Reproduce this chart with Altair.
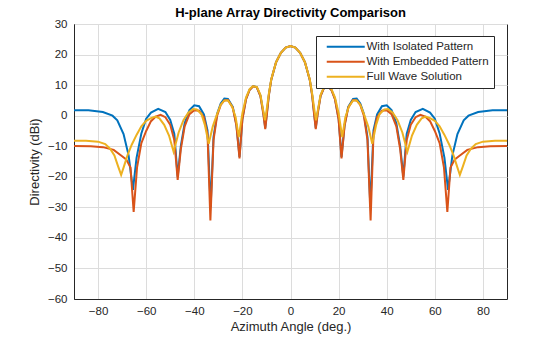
import altair as alt
import pandas as pd

# Isolated pattern (blue)
iso_angle = [-90, -84, -78, -74, -72, -69.4, -67.3, -65.5, -64, -62, -60, -58, -55, -52, -50, -48.3, -46.9, -45.6, -44, -42, -40, -38, -36, -34.5, -33.2, -32, -30.5, -29, -27.5, -26, -24, -22.5, -21.2, -20, -18.5, -17, -15.5, -14, -12.5, -11.3, -10.5, -9.8, -9, -8, -6, -4, -2,
             0, 2, 4, 6, 8, 9, 9.8, 10.5, 11.3, 12.5, 14, 15.5, 17, 18.5, 20, 21.2, 22.5, 24, 26, 27.5, 29, 30.5, 32, 33.2, 34.5, 36, 38, 40, 42, 44, 45.6, 46.9, 48.3, 50, 52, 55, 58, 60, 62, 64, 65.5, 67.3, 69.4, 72, 74, 78, 84, 90]
iso_val = [1.8, 1.8, 1.2, 0.0, -1.5, -6.0, -13.0, -24.3, -13.8, -5.8, -1.0, 1.0, 2.2, 1.2, -1.4, -6.0, -20.0, -10.0, -2.5, 1.8, 3.4, 3.1, 0.4, -4.8, -30.0, -7.0, 0.6, 4.0, 5.6, 5.5, 2.9, -2.9, -13.5, -1.0, 5.5, 8.5, 9.7, 9.3, 6.5, 1.0, -4.0, 1.0, 6.8, 11.8, 17.5, 20.6, 22.3,
           22.8, 22.3, 20.6, 17.5, 11.8, 6.8, 1.0, -4.0, 1.0, 6.5, 9.3, 9.7, 8.5, 5.5, -1.0, -13.5, -2.9, 2.9, 5.5, 5.6, 4.0, 0.6, -7.0, -30.0, -4.8, 0.4, 3.1, 3.4, 1.8, -2.5, -10.0, -20.0, -6.0, -1.4, 1.2, 2.2, 1.0, -1.0, -5.8, -13.8, -24.3, -13.0, -6.0, -1.5, 0.0, 1.2, 1.8, 1.8]

# Embedded pattern (orange)
emb_angle = [-90, -83, -78, -73.5, -70, -68.3, -66.5, -65.2, -63.8, -62, -60, -58, -56, -54, -52, -50, -48.3, -46.9, -45.6, -44, -42, -40, -38, -36, -34.5, -33.3, -32, -30.5, -29, -27.5, -26, -24, -22.5, -21.2, -20, -18.5, -17, -15.5, -14, -12.5, -11.3, -10.5, -9.8, -9, -8, -6, -4, -2,
             0, 2, 4, 6, 8, 9, 9.8, 10.5, 11.3, 12.5, 14, 15.5, 17, 18.5, 20, 21.2, 22.5, 24, 26, 27.5, 29, 30.5, 32, 33.3, 34.5, 36, 38, 40, 42, 44, 45.6, 46.9, 48.3, 50, 52, 54, 56, 58, 60, 62, 63.8, 65.2, 66.5, 68.3, 70, 73.5, 78, 83, 90]
emb_val = [-9.9, -10.0, -10.3, -11.2, -13.3, -14.3, -17.0, -31.5, -17.0, -9.0, -5.0, -1.8, -0.3, 0.3, -0.5, -3.0, -8.0, -21.0, -11.0, -3.5, 0.5, 1.8, 1.6, -0.5, -6.0, -34.3, -8.0, 0.0, 3.5, 5.0, 5.1, 2.6, -3.2, -14.0, -1.3, 5.3, 8.4, 9.6, 9.3, 6.4, 0.5, -4.4, 0.5, 6.6, 11.8, 17.5, 20.6, 22.3,
           22.8, 22.3, 20.6, 17.5, 11.8, 6.6, 0.5, -4.4, 0.5, 6.4, 9.3, 9.6, 8.4, 5.3, -1.3, -14.0, -3.2, 2.6, 5.1, 5.0, 3.5, 0.0, -8.0, -34.3, -6.0, -0.5, 1.6, 1.8, 0.5, -3.5, -11.0, -21.0, -8.0, -3.0, -0.5, 0.3, -0.3, -1.8, -5.0, -9.0, -17.0, -31.5, -17.0, -14.3, -13.3, -11.2, -10.3, -10.0, -9.9]

# Full wave solution (yellow)
fw_angle = [-90, -85, -80, -77, -75, -73.2, -71.7, -70.4, -69.2, -67.7, -66, -64, -62, -60, -58, -56.2, -54.5, -52.5, -50.5, -48.6, -46.5, -44.5, -42.5, -40.5, -39, -37, -35.6, -34, -32.3, -30.5, -29, -27.5, -26, -24.3, -22.8, -21.5, -20, -18.5, -17, -15.7, -14, -12.5, -11.4, -10.6, -10, -9, -8, -6, -4, -2,
            0, 2, 4, 6, 8, 9, 10, 10.6, 11.4, 12.5, 14, 15.7, 17, 18.5, 20, 21.5, 22.8, 24.3, 26, 27.5, 29, 30.5, 32.3, 34, 35.6, 37, 39, 40.5, 42.5, 44.5, 46.5, 48.6, 50.5, 52.5, 54.5, 56.2, 58, 60, 62, 64, 66, 67.7, 69.2, 70.4, 71.7, 73.2, 75, 77, 80, 85, 90]
fw_val = [-8.2, -8.2, -8.5, -9.3, -10.8, -13.0, -16.5, -19.4, -16.5, -12.8, -9.5, -6.3, -3.5, -1.7, -0.8, -0.3, -0.9, -3.0, -6.5, -11.8, -5.5, -1.5, 1.0, 2.2, 2.0, 0.5, -3.0, -9.2, -3.5, 0.6, 3.6, 5.0, 5.0, 3.0, -0.5, -7.0, 0.8, 5.9, 8.7, 9.6, 9.4, 6.8, 2.0, -1.5, 1.5, 7.2, 11.9, 17.5, 20.6, 22.3,
          22.8, 22.3, 20.6, 17.5, 11.9, 7.2, 1.5, -1.5, 2.0, 6.8, 9.4, 9.6, 8.7, 5.9, 0.8, -7.0, -0.5, 3.0, 5.0, 5.0, 3.6, 0.6, -3.5, -9.2, -3.0, 0.5, 2.0, 2.2, 1.0, -1.5, -5.5, -11.8, -6.5, -3.0, -0.9, -0.3, -0.8, -1.7, -3.5, -6.3, -9.5, -12.8, -16.5, -19.4, -16.5, -13.0, -10.8, -9.3, -8.5, -8.2, -8.2]

series_names = ["With Isolated Pattern", "With Embedded Pattern", "Full Wave Solution"]
series_colors = ["#0072BD", "#D95319", "#EDB120"]
x_ticks = [-80, -60, -40, -20, 0, 20, 40, 60, 80]
y_ticks = [-60, -50, -40, -30, -20, -10, 0, 10, 20, 30]

frames = []
for name, ang, val in zip(series_names, [iso_angle, emb_angle, fw_angle], [iso_val, emb_val, fw_val]):
    frames.append(pd.DataFrame({"angle": ang, "dir": val, "series": name, "idx": range(len(ang))}))
df = pd.concat(frames, ignore_index=True)

color = alt.Color("series:N",
                  scale=alt.Scale(domain=series_names, range=series_colors),
                  legend=alt.Legend(title=None, orient="none", legendX=242, legendY=12,
                                    symbolType="M0,0H38", symbolSize=4, symbolStrokeWidth=2,
                                    labelFontSize=11.5, labelColor="#262626", labelOffset=34,
                                    rowPadding=2, padding=5, fillColor="white",
                                    strokeColor="#262626", labelLimit=300))

x = alt.X("angle:Q", scale=alt.Scale(domain=[-90, 90], nice=False),
          axis=alt.Axis(values=x_ticks, title="Azimuth Angle (deg.)", titleFontSize=13,
                        titleFontWeight="normal", titleColor="#262626", labelFontSize=11.5,
                        labelColor="#262626", ticks=False, labelPadding=6, titlePadding=4,
                        domainColor="#262626", gridColor="#dcdcdc"))
y = alt.Y("dir:Q", scale=alt.Scale(domain=[-60, 30], nice=False),
          axis=alt.Axis(values=y_ticks, title="Directivity (dBi)", titleFontSize=13,
                        titleFontWeight="normal", titleColor="#262626", labelFontSize=11.5,
                        labelColor="#262626", ticks=False, labelPadding=7, titlePadding=6,
                        domainColor="#262626", gridColor="#dcdcdc"))

layers = []
for name in series_names:
    layers.append(
        alt.Chart(df).transform_filter(alt.datum.series == name)
        .mark_line(strokeWidth=2, clip=True)
        .encode(x=x, y=y, color=color, order="idx:Q")
    )

chart = alt.layer(*layers).properties(
    width=433, height=275,
    title=alt.TitleParams("H-plane Array Directivity Comparison", fontSize=13, fontWeight="bold",
                          color="#000000", offset=-2, anchor="middle"),
    autosize=alt.AutoSizeParams(type="none"),
    padding={"left": 74, "top": 24, "right": 53, "bottom": 38},
).configure(font="Liberation Sans").configure_view(stroke="#262626", strokeWidth=1)

chart.save("out.html", embed_options={"renderer": "svg", "actions": False})
